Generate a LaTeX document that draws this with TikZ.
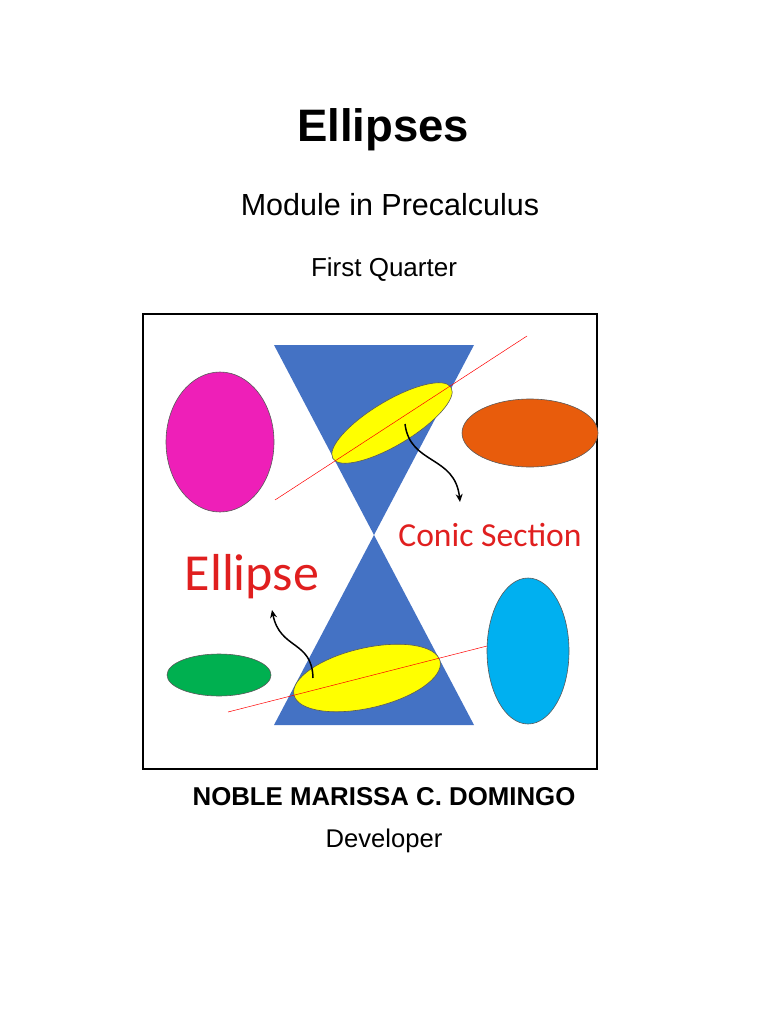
\documentclass[tikz,border=0pt]{standalone}
\usepackage{fontspec}
\setmainfont{Liberation Sans}
\newfontfamily\calfont{Carlito}
\usetikzlibrary{arrows.meta}
\definecolor{coneblue}{HTML}{4472C4}
\definecolor{yel}{HTML}{FFFF00}
\definecolor{mag}{HTML}{EE1FB8}
\definecolor{org}{HTML}{E85C0C}
\definecolor{grn}{HTML}{00B050}
\definecolor{cyn}{HTML}{00B0F0}
\definecolor{txtred}{HTML}{E01F1F}
\tikzset{blob/.style={draw=gray!70!black,line width=0.6pt},
  cut/.style={draw=red,line width=0.5pt},
  pointer/.style={-{Stealth[length=8pt,width=7pt]},line width=1.5pt}}
\begin{document}
\begin{tikzpicture}[x=1pt,y=-1pt]
\useasboundingbox (0,0) rectangle (768,1024);
\node (t1) at (383,130) {\fontsize{45.5}{50}\selectfont\bfseries Ellipses};
\node (t2) at (390,205) {\fontsize{30.5}{34}\selectfont Module in Precalculus};
\node (t3) at (384,270) {\fontsize{26}{30}\selectfont First Quarter};
\node (t4) at (384,797) {\fontsize{25.8}{30}\selectfont\bfseries NOBLE MARISSA C. DOMINGO};
\node (t5) at (384,841) {\fontsize{25.6}{30}\selectfont Developer};
\draw[line width=2.5pt] (143,314) rectangle (597,769);
\fill[coneblue] (274,345) -- (474,345) -- (374,535) -- cycle;
\fill[coneblue] (374,535) -- (274,725) -- (474,725) -- cycle;
\draw[blob,fill=mag] (220,442) ellipse [x radius=54,y radius=70];
\draw[blob,fill=org] (530,433) ellipse [x radius=68,y radius=34];
\draw[blob,fill=grn] (219,675) ellipse [x radius=52,y radius=21];
\draw[blob,fill=cyn] (528,651) ellipse [x radius=41,y radius=73];
\draw[blob,fill=yel,rotate around={31:(392,423)}] (392,423) ellipse [x radius=69,y radius=22];
\draw[blob,fill=yel,rotate around={13:(367,678)}] (367,678) ellipse [x radius=75,y radius=30];
\coordinate (l1a) at (275,500); \coordinate (l1b) at (527,336);
\coordinate (l2a) at (228,712); \coordinate (l2b) at (487,646);
\draw[cut] (l1a) -- (l1b);
\draw[cut] (l2a) -- (l2b);
\node[text=txtred] (cs) at (490,535) {\calfont\fontsize{33.6}{38}\selectfont Conic Section};
\node[text=txtred] (el) at (252,577) {\calfont\fontsize{52}{58}\selectfont Ellipse};
\coordinate (a1) at (405,424); \coordinate (a1e) at (460,502);
\coordinate (a2) at (313,678); \coordinate (a2e) at (272,610);
\draw[pointer] (a1) .. controls (410,465) and (455,455) .. (a1e);
\draw[pointer] (a2) .. controls (312,640) and (280,650) .. (a2e);
\end{tikzpicture}
\end{document}
